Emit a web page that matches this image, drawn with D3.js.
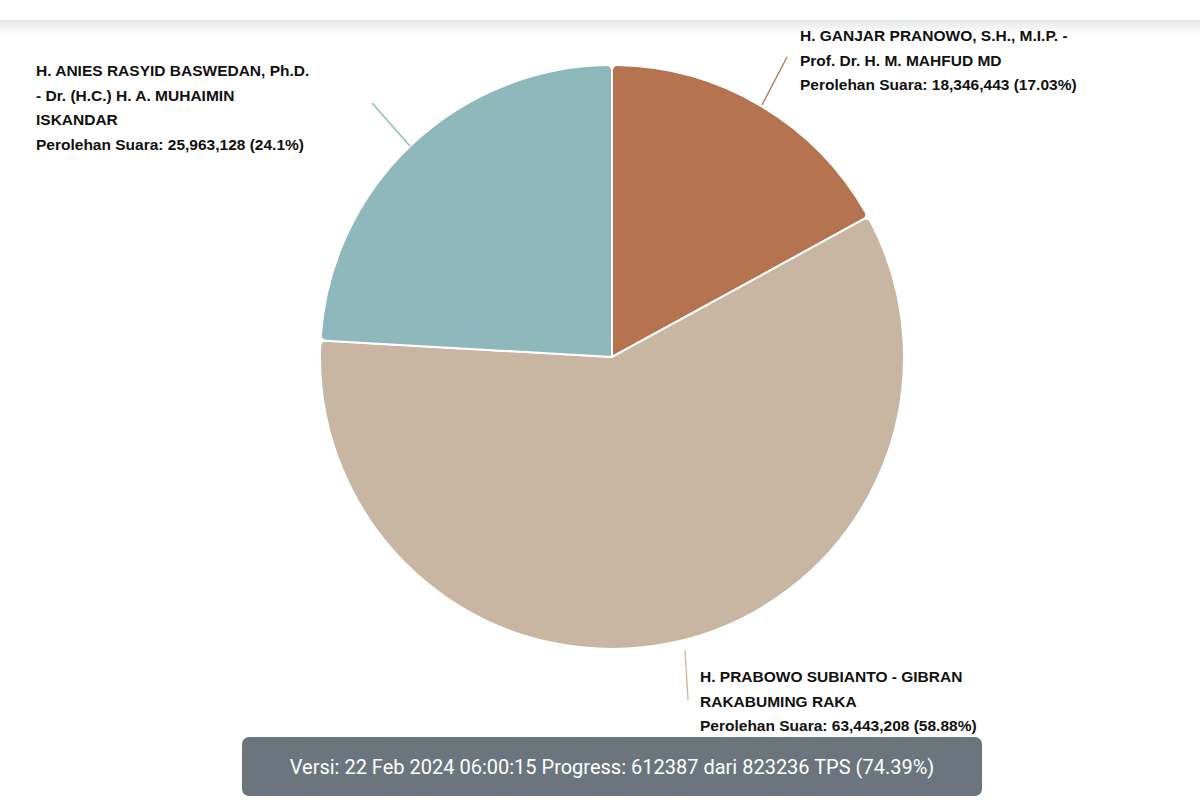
<!DOCTYPE html><html><head><meta charset="utf-8">
<script src="https://cdn.jsdelivr.net/npm/d3@7"></script>
<style>body{margin:0;background:#fff;font-family:"Liberation Sans",Arial,sans-serif}</style></head><body>
<svg id="c" width="1200" height="800"></svg>
<script>
const names=["H. GANJAR PRANOWO, S.H., M.I.P. - Prof. Dr. H. M. MAHFUD MD","H. PRABOWO SUBIANTO - GIBRAN RAKABUMING RAKA","H. ANIES RASYID BASWEDAN, Ph.D. - Dr. (H.C.) H. A. MUHAIMIN ISKANDAR"];
const votes=[18346443,63443208,25963128];
const pcts=["17.03%","58.88%","24.1%"];
const colors=["#b57350","#c8b6a2","#8fb8bd"];
const labelLines=[["H. GANJAR PRANOWO, S.H., M.I.P. -","Prof. Dr. H. M. MAHFUD MD"],["H. PRABOWO SUBIANTO - GIBRAN","RAKABUMING RAKA"],["H. ANIES RASYID BASWEDAN, Ph.D.","- Dr. (H.C.) H. A. MUHAIMIN","ISKANDAR"]];
const svg=d3.select("#c");
const defs=svg.append("defs");
const g0=defs.append("linearGradient").attr("id","sh").attr("x1",0).attr("y1",0).attr("x2",0).attr("y2",1);
g0.append("stop").attr("offset",0).attr("stop-color","#e4e6e8");g0.append("stop").attr("offset",1).attr("stop-color","#fff");
svg.append("rect").attr("x",0).attr("y",20).attr("width",1200).attr("height",14).attr("fill","url(#sh)");
const cx=612,cy=357,R=292;
const pie=d3.pie().sort(null).value(d=>d)(votes);
const arc=d3.arc().innerRadius(0).outerRadius(R).cornerRadius(5);
const g=svg.append("g").attr("transform",`translate(${cx},${cy})`);
g.selectAll("path").data(pie).join("path").attr("d",arc).attr("fill",(d,i)=>colors[i]).attr("stroke","#fff").attr("stroke-width",2);
const conn=[[[762,105],[787,57]],[[685,650],[688,700]],[[410,146],[372,103]]];
const lpos=[[800,41],[700,682],[36,76]];
conn.forEach((c,i)=>svg.append("path").attr("d",d3.line()(c)).attr("stroke",colors[i]).attr("fill","none").attr("stroke-width",1.3));
labelLines.forEach((ls,i)=>{
  const t=svg.append("text").attr("x",lpos[i][0]).attr("y",lpos[i][1]).attr("font-size",15.5).attr("font-weight","bold").attr("fill","#111");
  const all=ls.concat([`Perolehan Suara: ${d3.format(",")(votes[i])} (${pcts[i]})`]);
  all.forEach((s,j)=>t.append("tspan").attr("x",lpos[i][0]).attr("dy",j?24.5:0).text(s));
});
svg.append("rect").attr("x",242).attr("y",737).attr("width",740).attr("height",59).attr("rx",7).attr("fill","#6c757d");
svg.append("text").attr("x",612).attr("y",774).attr("text-anchor","middle").attr("fill","#fff").attr("font-size",20).attr("font-family","Roboto, sans-serif")
  .text("Versi: 22 Feb 2024 06:00:15 Progress: 612387 dari 823236 TPS (74.39%)");
</script></body></html>
